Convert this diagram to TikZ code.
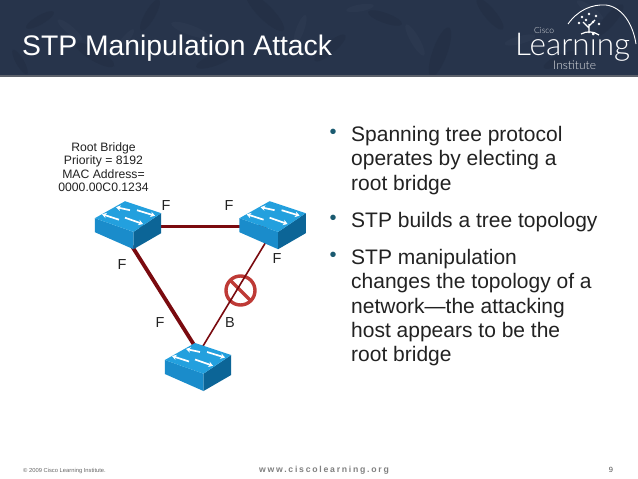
\documentclass[tikz,border=0pt]{standalone}
\usepackage{fontspec}
\setmainfont{Liberation Sans}
\newfontfamily\logofont{Lato Light}
\usetikzlibrary{arrows.meta}
\definecolor{hdr}{HTML}{27344B}
\definecolor{hdrB}{HTML}{2B384F}
\definecolor{hdrD}{HTML}{243046}
\definecolor{swT}{HTML}{23A0DE}
\definecolor{swL}{HTML}{1A8CCB}
\definecolor{swR}{HTML}{0C6597}
\definecolor{lnk}{HTML}{7A0A0F}
\definecolor{blk}{HTML}{BE3A36}
\definecolor{bul}{HTML}{1A5A70}
\definecolor{txt}{HTML}{222222}
\tikzset{
  x=1pt,y=-1pt,
  swbox/.style={minimum width=66.3pt,minimum height=48pt,inner sep=0pt,outer sep=0pt},
  thicklink/.style={draw=lnk,line width=3.8pt},
  thinlink/.style={draw=lnk,line width=1.6pt},
  portlabel/.style={font=\fontsize{14.5}{14.5}\selectfont,text=txt,inner sep=0pt},
  rootlabel/.style={font=\fontsize{12.2}{13.4}\selectfont,text=txt,align=center,inner sep=0pt},
  bullettext/.style={font=\fontsize{21}{24.3}\selectfont,text=txt,align=left,anchor=north west,inner sep=0pt},
  bulletmark/.style={font=\fontsize{20}{20}\selectfont,text=bul,inner sep=0pt},
  swarrow/.style={draw=white,line width=1.7pt,-{Stealth[length=4.5pt,width=5.5pt]}},
  pics/switchicon/.style={code={
    \fill[swL] (-33.15,-7) -- (5.5,6.7) -- (5.5,24) -- (-33.15,7) -- cycle;
    \fill[swR] (5.5,6.7) -- (33.15,-12) -- (33.15,8) -- (5.5,24) -- cycle;
    \fill[swT] (-33.15,-7) -- (-3,-24) -- (33.15,-12) -- (5.5,6.7) -- cycle;
    \draw[swarrow] (2,-15) -- (-12,-18);
    \draw[swarrow] (9,-15) -- (27,-9.5);
    \draw[swarrow] (-9,-5.5) -- (-26,-11);
    \draw[swarrow] (-3,-7.5) -- (15,-1.2);
  }}
}
\begin{document}
\begin{tikzpicture}
\useasboundingbox (0,0) rectangle (638,479);
\fill[white] (0,0) rectangle (638,479);
% header band
\fill[hdr] (0,0) rectangle (638,75);
\begin{scope}
  \clip (0,0) rectangle (638,75);
  \foreach \px/\py/\rr/\aa in {40/20/16/30,95/55/22/-30,150/15/18/60,215/60/20/20,265/12/26/-45,
      330/48/20/40,385/18/18/-20,440/52/26/70,490/14/20/-50,560/60/18/25,610/20/20/50,20/62/14/-60}{
    \fill[hdrD,rotate around={\aa:(\px,\py)}] (\px,\py) ellipse ({\rr} and {\rr*0.28});
  }
  \foreach \px/\py/\rr/\aa in {70/30/16/-40,125/40/14/50,190/30/20/-20,300/30/16/70,360/8/14/10,
      415/40/18/-60,520/40/16/15,590/10/16/-35}{
    \fill[hdrB,rotate around={\aa:(\px,\py)}] (\px,\py) ellipse ({\rr} and {\rr*0.25});
  }
\end{scope}
\fill[gray!60!hdr] (0,75) rectangle (638,76.5);
\node[anchor=base west,inner sep=0pt,text=white,font=\fontsize{28.3}{28.3}\selectfont] (title) at (22,56) {STP Manipulation Attack};
% logo
\draw[white,line width=0.9pt] (568,24) .. controls (578,10) and (592,4) .. (606,5) .. controls (622,7) and (633,24) .. (636,44);
\node[anchor=base west,inner sep=0pt,text=white,font=\logofont\fontsize{31.5}{31.5}\selectfont] (logoW) at (515,56) {Learning};
\node[anchor=base west,inner sep=0pt,text=white!85!hdr,font=\logofont\fontsize{8.5}{8.5}\selectfont] (logoC) at (534,33) {Cisco};
\node[anchor=base west,inner sep=0pt,text=white!85!hdr,font=\logofont\fontsize{12}{12}\selectfont] (logoI) at (553,69) {Institute};
\draw[white,line width=1.2pt] (589,33) -- (589,24) (589,28) -- (583,22) (589,26) -- (595,20) (581,34) .. controls (587,31) and (593,31) .. (599,35);
\foreach \lx/\ly in {582/17,589/14,596/16,579/23,599/24,586/20,593/22}{
  \fill[white] (\lx,\ly) circle (1.3);
}
% network
\node[swbox] (s1) at (128,225.2) {};
\node[swbox] (s2) at (272.6,225.2) {};
\node[swbox] (s3) at (198,367) {};
% block symbol
\node[circle,draw=blk,line width=3.4pt,minimum size=29pt,inner sep=0pt,outer sep=0pt] (blockmark) at (240.5,290.5) {};
\draw[blk,line width=3.2pt] (blockmark.north west) -- (blockmark.south east);
\draw[thicklink] ([yshift=-1.3pt]s1.center) -- ([yshift=-1.3pt]s2.center);
\draw[thicklink] ([xshift=4pt,yshift=3pt]s1.south) -- ([xshift=-2pt,yshift=-5pt]s3.north);
\draw[thinlink] ([xshift=-2.6pt,yshift=14pt]s2.south) -- ([xshift=2pt,yshift=-8pt]s3.north);
\pic at (s1.center) {switchicon};
\pic at (s2.center) {switchicon};
\pic at (s3.center) {switchicon};
% labels
\node[rootlabel] (root) at (103.5,167) {Root Bridge\\Priority = 8192\\MAC Address=\\0000.00C0.1234};
\node[portlabel] (f1) at (166,205.5) {F};
\node[portlabel] (f2) at (229,205.5) {F};
\node[portlabel] (f3) at (122,264.5) {F};
\node[portlabel] (f4) at (277,259) {F};
\node[portlabel] (f5) at (160,323) {F};
\node[portlabel] (b1) at (230,323) {B};
% bullets
\node[bulletmark] (m1) at (333,134) {•};
\node[bulletmark] (m2) at (333,220) {•};
\node[bulletmark] (m3) at (333,257) {•};
\node[bullettext] (t1) at (351,126) {Spanning tree protocol\\operates by electing a\\root bridge};
\node[bullettext] (t2) at (351,212) {STP builds a tree topology};
\node[bullettext] (t3) at (351,249) {STP manipulation\\changes the topology of a\\network—the attacking\\host appears to be the\\root bridge};
% footer
\node[anchor=base west,inner sep=0pt,text=gray!80!black,font=\fontsize{5.8}{5.8}\selectfont] (c1) at (23,472) {© 2009 Cisco Learning Institute.};
\node[anchor=base,inner sep=0pt,text=gray,font=\fontsize{8.7}{8.7}\selectfont\bfseries\addfontfeature{LetterSpace=20}] (c2) at (324,472) {www.ciscolearning.org};
\node[anchor=base,inner sep=0pt,text=gray!60!black,font=\fontsize{7.5}{7.5}\selectfont] (c3) at (611,472) {9};
\end{tikzpicture}
\end{document}
